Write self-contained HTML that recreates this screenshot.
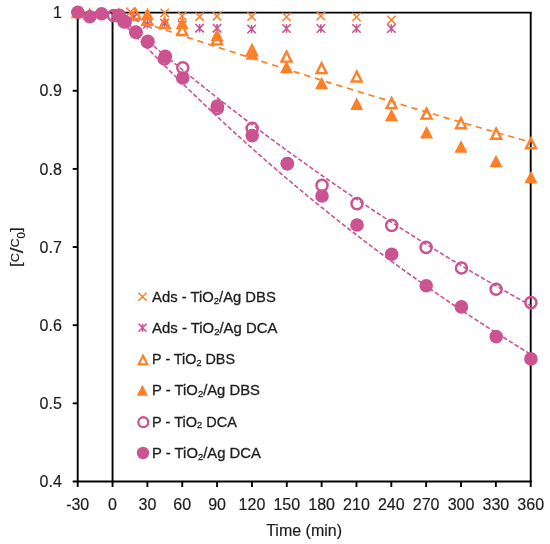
<!DOCTYPE html><html><head><meta charset="utf-8"><style>html,body{margin:0;padding:0;background:#fff;width:550px;height:544px;overflow:hidden;position:relative}</style></head><body><svg width="550" height="544" viewBox="0 0 550 544" style="position:absolute;left:0;top:0">
<rect x="0" y="0" width="550" height="544" fill="#fff"/>
<g stroke="#000000" stroke-width="1.9" fill="none" stroke-linecap="butt"><line x1="76.75" y1="12.60" x2="531.65" y2="12.60"/><line x1="530.70" y1="12.60" x2="530.70" y2="487.00"/><line x1="77.70" y1="12.60" x2="77.70" y2="487.00"/><line x1="112.55" y1="12.60" x2="112.55" y2="487.00"/><line x1="72.70" y1="481.50" x2="531.65" y2="481.50"/><line x1="147.39" y1="481.50" x2="147.39" y2="487.00"/><line x1="182.24" y1="481.50" x2="182.24" y2="487.00"/><line x1="217.08" y1="481.50" x2="217.08" y2="487.00"/><line x1="251.93" y1="481.50" x2="251.93" y2="487.00"/><line x1="286.78" y1="481.50" x2="286.78" y2="487.00"/><line x1="321.62" y1="481.50" x2="321.62" y2="487.00"/><line x1="356.47" y1="481.50" x2="356.47" y2="487.00"/><line x1="391.31" y1="481.50" x2="391.31" y2="487.00"/><line x1="426.16" y1="481.50" x2="426.16" y2="487.00"/><line x1="461.01" y1="481.50" x2="461.01" y2="487.00"/><line x1="495.85" y1="481.50" x2="495.85" y2="487.00"/><line x1="72.70" y1="403.35" x2="77.70" y2="403.35"/><line x1="72.70" y1="325.20" x2="77.70" y2="325.20"/><line x1="72.70" y1="247.05" x2="77.70" y2="247.05"/><line x1="72.70" y1="168.90" x2="77.70" y2="168.90"/><line x1="72.70" y1="90.75" x2="77.70" y2="90.75"/><line x1="72.70" y1="12.60" x2="77.70" y2="12.60"/></g>
<g font-family="'Liberation Sans', Arial, sans-serif" fill="#1e1e1e" stroke="#1e1e1e" stroke-width="0.2"><text x="61.8" y="487.1" text-anchor="end" font-size="16">0.4</text><text x="61.8" y="408.95" text-anchor="end" font-size="16">0.5</text><text x="61.8" y="330.8" text-anchor="end" font-size="16">0.6</text><text x="61.8" y="252.65" text-anchor="end" font-size="16">0.7</text><text x="61.8" y="174.5" text-anchor="end" font-size="16">0.8</text><text x="61.8" y="96.35" text-anchor="end" font-size="16">0.9</text><text x="61.8" y="18.2" text-anchor="end" font-size="16">1</text><text x="77.7" y="509.6" text-anchor="middle" font-size="16">-30</text><text x="112.55" y="509.6" text-anchor="middle" font-size="16">0</text><text x="147.39" y="509.6" text-anchor="middle" font-size="16">30</text><text x="182.24" y="509.6" text-anchor="middle" font-size="16">60</text><text x="217.08" y="509.6" text-anchor="middle" font-size="16">90</text><text x="251.93" y="509.6" text-anchor="middle" font-size="16">120</text><text x="286.78" y="509.6" text-anchor="middle" font-size="16">150</text><text x="321.62" y="509.6" text-anchor="middle" font-size="16">180</text><text x="356.47" y="509.6" text-anchor="middle" font-size="16">210</text><text x="391.31" y="509.6" text-anchor="middle" font-size="16">240</text><text x="426.16" y="509.6" text-anchor="middle" font-size="16">270</text><text x="461.01" y="509.6" text-anchor="middle" font-size="16">300</text><text x="495.85" y="509.6" text-anchor="middle" font-size="16">330</text><text x="530.7" y="509.6" text-anchor="middle" font-size="16">360</text><text x="304.1" y="536.0" text-anchor="middle" font-size="16">Time (min)</text></g>
<g font-family="'Liberation Sans', Arial, sans-serif" fill="#1e1e1e" stroke="#1e1e1e" stroke-width="0.3"><text x="152.1" y="301.9" text-anchor="start" font-size="15" textLength="123.7" lengthAdjust="spacingAndGlyphs">Ads - TiO<tspan font-size="9.6" dy="1.8">2</tspan><tspan dy="-1.8">/Ag DBS</tspan></text><text x="152.1" y="333.07" text-anchor="start" font-size="15" textLength="125.3" lengthAdjust="spacingAndGlyphs">Ads - TiO<tspan font-size="9.6" dy="1.8">2</tspan><tspan dy="-1.8">/Ag DCA</tspan></text><text x="152.1" y="364.24" text-anchor="start" font-size="15" textLength="82.9" lengthAdjust="spacingAndGlyphs">P - TiO<tspan font-size="9.6" dy="1.8">2</tspan><tspan dy="-1.8"> DBS</tspan></text><text x="152.1" y="395.41" text-anchor="start" font-size="15" textLength="107.8" lengthAdjust="spacingAndGlyphs">P - TiO<tspan font-size="9.6" dy="1.8">2</tspan><tspan dy="-1.8">/Ag DBS</tspan></text><text x="152.1" y="426.58" text-anchor="start" font-size="15" textLength="84.8" lengthAdjust="spacingAndGlyphs">P - TiO<tspan font-size="9.6" dy="1.8">2</tspan><tspan dy="-1.8"> DCA</tspan></text><text x="152.1" y="457.75" text-anchor="start" font-size="15" textLength="108.8" lengthAdjust="spacingAndGlyphs">P - TiO<tspan font-size="9.6" dy="1.8">2</tspan><tspan dy="-1.8">/Ag DCA</tspan></text></g>
<text transform="translate(20.8,247.2) rotate(-90)" text-anchor="middle" font-family="'Liberation Sans', Arial, sans-serif" font-size="15.5" fill="#1e1e1e" stroke="#1e1e1e" stroke-width="0.2" textLength="39.7" lengthAdjust="spacingAndGlyphs">[<tspan font-size="11.6" dy="-2.2">C</tspan><tspan font-size="19.2" dy="4.0">/</tspan><tspan font-size="11.6" dy="-4.0">C</tspan><tspan font-size="10.5" dy="6.4">0</tspan><tspan dy="-4.2">]</tspan></text>
<polyline points="112.55,12.29 116.03,13.47 119.52,14.65 123.00,15.83 126.48,17.01 129.97,18.19 133.45,19.36 136.94,20.53 140.42,21.71 143.91,22.88 147.39,24.04 150.88,25.21 154.36,26.37 157.85,27.53 161.33,28.70 164.81,29.85 168.30,31.01 171.78,32.17 175.27,33.32 178.75,34.47 182.24,35.62 185.72,36.77 189.21,37.92 192.69,39.06 196.18,40.20 199.66,41.34 203.15,42.48 206.63,43.62 210.11,44.76 213.60,45.89 217.08,47.03 220.57,48.16 224.05,49.29 227.54,50.41 231.02,51.54 234.51,52.66 237.99,53.79 241.48,54.91 244.96,56.03 248.45,57.14 251.93,58.26 255.41,59.37 258.90,60.48 262.38,61.60 265.87,62.70 269.35,63.81 272.84,64.92 276.32,66.02 279.81,67.12 283.29,68.22 286.78,69.32 290.26,70.42 293.75,71.51 297.23,72.61 300.71,73.70 304.20,74.79 307.68,75.88 311.17,76.97 314.65,78.05 318.14,79.14 321.62,80.22 325.11,81.30 328.59,82.38 332.08,83.46 335.56,84.53 339.04,85.61 342.53,86.68 346.01,87.75 349.50,88.82 352.98,89.89 356.47,90.95 359.95,92.02 363.44,93.08 366.92,94.14 370.41,95.20 373.89,96.26 377.38,97.32 380.86,98.37 384.34,99.42 387.83,100.48 391.31,101.53 394.80,102.57 398.28,103.62 401.77,104.67 405.25,105.71 408.74,106.75 412.22,107.79 415.71,108.83 419.19,109.87 422.68,110.91 426.16,111.94 429.64,112.97 433.13,114.00 436.61,115.03 440.10,116.06 443.58,117.09 447.07,118.11 450.55,119.14 454.04,120.16 457.52,121.18 461.01,122.20 464.49,123.21 467.98,124.23 471.46,125.24 474.94,126.26 478.43,127.27 481.91,128.28 485.40,129.28 488.88,130.29 492.37,131.30 495.85,132.30 499.34,133.30 502.82,134.30 506.31,135.30 509.79,136.30 513.27,137.29 516.76,138.29 520.24,139.28 523.73,140.27 527.21,141.26 530.70,142.25" fill="none" stroke="#FF7F27" stroke-width="1.7" stroke-dasharray="6.3 4.9"/><polyline points="112.55,10.33 116.03,13.41 119.52,16.48 123.00,19.54 126.48,22.58 129.97,25.61 133.45,28.63 136.94,31.64 140.42,34.64 143.91,37.62 147.39,40.59 150.88,43.56 154.36,46.51 157.85,49.44 161.33,52.37 164.81,55.28 168.30,58.19 171.78,61.08 175.27,63.96 178.75,66.83 182.24,69.69 185.72,72.53 189.21,75.37 192.69,78.19 196.18,81.01 199.66,83.81 203.15,86.60 206.63,89.38 210.11,92.15 213.60,94.91 217.08,97.66 220.57,100.39 224.05,103.12 227.54,105.84 231.02,108.54 234.51,111.23 237.99,113.92 241.48,116.59 244.96,119.25 248.45,121.91 251.93,124.55 255.41,127.18 258.90,129.80 262.38,132.41 265.87,135.01 269.35,137.60 272.84,140.18 276.32,142.75 279.81,145.31 283.29,147.86 286.78,150.40 290.26,152.93 293.75,155.45 297.23,157.96 300.71,160.46 304.20,162.95 307.68,165.43 311.17,167.90 314.65,170.36 318.14,172.81 321.62,175.25 325.11,177.68 328.59,180.11 332.08,182.52 335.56,184.92 339.04,187.32 342.53,189.70 346.01,192.08 349.50,194.44 352.98,196.80 356.47,199.14 359.95,201.48 363.44,203.81 366.92,206.13 370.41,208.44 373.89,210.74 377.38,213.04 380.86,215.32 384.34,217.59 387.83,219.86 391.31,222.12 394.80,224.36 398.28,226.60 401.77,228.83 405.25,231.05 408.74,233.27 412.22,235.47 415.71,237.67 419.19,239.85 422.68,242.03 426.16,244.20 429.64,246.36 433.13,248.51 436.61,250.66 440.10,252.79 443.58,254.92 447.07,257.04 450.55,259.15 454.04,261.25 457.52,263.35 461.01,265.43 464.49,267.51 467.98,269.58 471.46,271.64 474.94,273.69 478.43,275.74 481.91,277.78 485.40,279.80 488.88,281.83 492.37,283.84 495.85,285.84 499.34,287.84 502.82,289.83 506.31,291.81 509.79,293.79 513.27,295.75 516.76,297.71 520.24,299.66 523.73,301.60 527.21,303.54 530.70,305.47" fill="none" stroke="#CB5390" stroke-width="1.6" stroke-dasharray="4.5 2.3"/><polyline points="112.55,11.51 116.03,15.25 119.52,18.99 123.00,22.70 126.48,26.39 129.97,30.07 133.45,33.73 136.94,37.37 140.42,41.00 143.91,44.60 147.39,48.19 150.88,51.77 154.36,55.32 157.85,58.86 161.33,62.38 164.81,65.89 168.30,69.38 171.78,72.85 175.27,76.30 178.75,79.74 182.24,83.16 185.72,86.57 189.21,89.96 192.69,93.33 196.18,96.69 199.66,100.03 203.15,103.35 206.63,106.66 210.11,109.95 213.60,113.23 217.08,116.49 220.57,119.74 224.05,122.97 227.54,126.18 231.02,129.38 234.51,132.57 237.99,135.73 241.48,138.89 244.96,142.03 248.45,145.15 251.93,148.26 255.41,151.35 258.90,154.43 262.38,157.49 265.87,160.54 269.35,163.58 272.84,166.60 276.32,169.60 279.81,172.60 283.29,175.57 286.78,178.54 290.26,181.48 293.75,184.42 297.23,187.34 300.71,190.25 304.20,193.14 307.68,196.02 311.17,198.88 314.65,201.73 318.14,204.57 321.62,207.39 325.11,210.20 328.59,213.00 332.08,215.78 335.56,218.55 339.04,221.31 342.53,224.06 346.01,226.79 349.50,229.50 352.98,232.21 356.47,234.90 359.95,237.58 363.44,240.24 366.92,242.90 370.41,245.54 373.89,248.16 377.38,250.78 380.86,253.38 384.34,255.97 387.83,258.55 391.31,261.11 394.80,263.67 398.28,266.21 401.77,268.74 405.25,271.25 408.74,273.76 412.22,276.25 415.71,278.73 419.19,281.20 422.68,283.66 426.16,286.10 429.64,288.53 433.13,290.96 436.61,293.37 440.10,295.76 443.58,298.15 447.07,300.53 450.55,302.89 454.04,305.24 457.52,307.59 461.01,309.92 464.49,312.24 467.98,314.54 471.46,316.84 474.94,319.13 478.43,321.40 481.91,323.67 485.40,325.92 488.88,328.16 492.37,330.39 495.85,332.62 499.34,334.83 502.82,337.03 506.31,339.21 509.79,341.39 513.27,343.56 516.76,345.72 520.24,347.87 523.73,350.01 527.21,352.13 530.70,354.25" fill="none" stroke="#CB5390" stroke-width="1.6" stroke-dasharray="4.5 2.3"/>
<path d="M126.30,7.60L134.70,16.00M126.30,16.00L134.70,7.60" stroke="#FF7F27" stroke-width="1.6" fill="none"/><path d="M160.50,8.70L168.90,17.10M160.50,17.10L168.90,8.70" stroke="#FF7F27" stroke-width="1.6" fill="none"/><path d="M178.00,11.80L186.40,20.20M178.00,20.20L186.40,11.80" stroke="#FF7F27" stroke-width="1.6" fill="none"/><path d="M195.40,12.50L203.80,20.90M195.40,20.90L203.80,12.50" stroke="#FF7F27" stroke-width="1.6" fill="none"/><path d="M212.80,12.00L221.20,20.40M212.80,20.40L221.20,12.00" stroke="#FF7F27" stroke-width="1.6" fill="none"/><path d="M247.40,12.30L255.80,20.70M247.40,20.70L255.80,12.30" stroke="#FF7F27" stroke-width="1.6" fill="none"/><path d="M282.30,12.80L290.70,21.20M282.30,21.20L290.70,12.80" stroke="#FF7F27" stroke-width="1.6" fill="none"/><path d="M316.70,11.80L325.10,20.20M316.70,20.20L325.10,11.80" stroke="#FF7F27" stroke-width="1.6" fill="none"/><path d="M352.30,12.80L360.70,21.20M352.30,21.20L360.70,12.80" stroke="#FF7F27" stroke-width="1.6" fill="none"/><path d="M387.20,15.80L395.60,24.20M387.20,24.20L395.60,15.80" stroke="#FF7F27" stroke-width="1.6" fill="none"/><path d="M129.60,13.20L138.00,21.60M129.60,21.60L138.00,13.20M133.80,13.20L133.80,21.60" stroke="#CB5390" stroke-width="1.6" fill="none"/><path d="M143.20,20.10L151.60,28.50M143.20,28.50L151.60,20.10M147.40,20.10L147.40,28.50" stroke="#CB5390" stroke-width="1.6" fill="none"/><path d="M160.30,19.00L168.70,27.40M160.30,27.40L168.70,19.00M164.50,19.00L164.50,27.40" stroke="#CB5390" stroke-width="1.6" fill="none"/><path d="M178.00,20.70L186.40,29.10M178.00,29.10L186.40,20.70M182.20,20.70L182.20,29.10" stroke="#CB5390" stroke-width="1.6" fill="none"/><path d="M195.40,24.00L203.80,32.40M195.40,32.40L203.80,24.00M199.60,24.00L199.60,32.40" stroke="#CB5390" stroke-width="1.6" fill="none"/><path d="M212.80,24.00L221.20,32.40M212.80,32.40L221.20,24.00M217.00,24.00L217.00,32.40" stroke="#CB5390" stroke-width="1.6" fill="none"/><path d="M247.40,24.80L255.80,33.20M247.40,33.20L255.80,24.80M251.60,24.80L251.60,33.20" stroke="#CB5390" stroke-width="1.6" fill="none"/><path d="M282.30,24.30L290.70,32.70M282.30,32.70L290.70,24.30M286.50,24.30L286.50,32.70" stroke="#CB5390" stroke-width="1.6" fill="none"/><path d="M316.70,24.30L325.10,32.70M316.70,32.70L325.10,24.30M320.90,24.30L320.90,32.70" stroke="#CB5390" stroke-width="1.6" fill="none"/><path d="M352.30,24.30L360.70,32.70M352.30,32.70L360.70,24.30M356.50,24.30L356.50,32.70" stroke="#CB5390" stroke-width="1.6" fill="none"/><path d="M387.20,24.30L395.60,32.70M387.20,32.70L395.60,24.30M391.40,24.30L391.40,32.70" stroke="#CB5390" stroke-width="1.6" fill="none"/><path d="M135.50,6.40L142.40,20.20L128.60,20.20ZM135.50,11.76L132.48,17.80L138.52,17.80Z" fill="#FF7F27" fill-rule="evenodd"/><path d="M147.40,12.29L154.30,26.10L140.50,26.10ZM147.40,17.66L144.38,23.70L150.42,23.70Z" fill="#FF7F27" fill-rule="evenodd"/><path d="M164.70,15.40L171.60,29.20L157.80,29.20ZM164.70,20.76L161.68,26.80L167.72,26.80Z" fill="#FF7F27" fill-rule="evenodd"/><path d="M182.20,22.40L189.10,36.20L175.30,36.20ZM182.20,27.76L179.18,33.80L185.22,33.80Z" fill="#FF7F27" fill-rule="evenodd"/><path d="M217.00,31.80L223.90,45.61L210.10,45.61ZM217.00,37.16L213.98,43.21L220.02,43.21Z" fill="#FF7F27" fill-rule="evenodd"/><path d="M252.00,42.59L258.90,56.41L245.10,56.41ZM252.00,47.96L248.98,54.01L255.02,54.01Z" fill="#FF7F27" fill-rule="evenodd"/><path d="M286.50,48.99L293.40,62.80L279.60,62.80ZM286.50,54.36L283.48,60.41L289.52,60.41Z" fill="#FF7F27" fill-rule="evenodd"/><path d="M321.60,60.50L328.50,74.31L314.70,74.31ZM321.60,65.86L318.58,71.91L324.62,71.91Z" fill="#FF7F27" fill-rule="evenodd"/><path d="M356.70,68.89L363.60,82.70L349.80,82.70ZM356.70,74.26L353.68,80.30L359.72,80.30Z" fill="#FF7F27" fill-rule="evenodd"/><path d="M391.60,95.50L398.50,109.31L384.70,109.31ZM391.60,100.86L388.58,106.91L394.62,106.91Z" fill="#FF7F27" fill-rule="evenodd"/><path d="M426.60,106.00L433.50,119.81L419.70,119.81ZM426.60,111.36L423.58,117.41L429.62,117.41Z" fill="#FF7F27" fill-rule="evenodd"/><path d="M461.00,115.59L467.90,129.41L454.10,129.41ZM461.00,120.96L457.98,127.00L464.02,127.00Z" fill="#FF7F27" fill-rule="evenodd"/><path d="M496.20,126.09L503.10,139.91L489.30,139.91ZM496.20,131.46L493.18,137.50L499.22,137.50Z" fill="#FF7F27" fill-rule="evenodd"/><path d="M531.00,135.69L537.90,149.50L524.10,149.50ZM531.00,141.06L527.98,147.10L534.02,147.10Z" fill="#FF7F27" fill-rule="evenodd"/><path d="M77.20,5.70L83.70,18.30L70.70,18.30Z" fill="#FF7F27"/><path d="M89.60,7.29L96.10,19.91L83.10,19.91Z" fill="#FF7F27"/><path d="M118.60,7.20L125.10,19.80L112.10,19.80Z" fill="#FF7F27"/><path d="M147.40,7.39L153.90,20.00L140.90,20.00Z" fill="#FF7F27"/><path d="M182.20,16.59L188.70,29.20L175.70,29.20Z" fill="#FF7F27"/><path d="M217.00,28.70L223.50,41.30L210.50,41.30Z" fill="#FF7F27"/><path d="M252.00,47.20L258.50,59.80L245.50,59.80Z" fill="#FF7F27"/><path d="M286.50,60.70L293.00,73.31L280.00,73.31Z" fill="#FF7F27"/><path d="M321.60,76.69L328.10,89.31L315.10,89.31Z" fill="#FF7F27"/><path d="M356.70,97.29L363.20,109.91L350.20,109.91Z" fill="#FF7F27"/><path d="M391.50,108.69L398.00,121.31L385.00,121.31Z" fill="#FF7F27"/><path d="M426.60,125.89L433.10,138.50L420.10,138.50Z" fill="#FF7F27"/><path d="M461.00,140.19L467.50,152.81L454.50,152.81Z" fill="#FF7F27"/><path d="M496.00,154.69L502.50,167.31L489.50,167.31Z" fill="#FF7F27"/><path d="M531.00,170.69L537.50,183.31L524.50,183.31Z" fill="#FF7F27"/><circle cx="113.50" cy="15.50" r="5.55" fill="none" stroke="#CB5390" stroke-width="2.5"/><circle cx="118.60" cy="16.00" r="5.55" fill="none" stroke="#CB5390" stroke-width="2.5"/><circle cx="124.20" cy="22.00" r="5.55" fill="none" stroke="#CB5390" stroke-width="2.5"/><circle cx="135.80" cy="32.00" r="5.55" fill="none" stroke="#CB5390" stroke-width="2.5"/><circle cx="147.50" cy="42.00" r="5.55" fill="none" stroke="#CB5390" stroke-width="2.5"/><circle cx="164.40" cy="58.90" r="5.55" fill="none" stroke="#CB5390" stroke-width="2.5"/><circle cx="182.80" cy="67.80" r="5.55" fill="none" stroke="#CB5390" stroke-width="2.5"/><circle cx="217.30" cy="108.50" r="5.55" fill="none" stroke="#CB5390" stroke-width="2.5"/><circle cx="252.20" cy="128.20" r="5.55" fill="none" stroke="#CB5390" stroke-width="2.5"/><circle cx="287.30" cy="163.60" r="5.55" fill="none" stroke="#CB5390" stroke-width="2.5"/><circle cx="322.00" cy="185.40" r="5.55" fill="none" stroke="#CB5390" stroke-width="2.5"/><circle cx="357.00" cy="203.60" r="5.55" fill="none" stroke="#CB5390" stroke-width="2.5"/><circle cx="391.70" cy="225.40" r="5.55" fill="none" stroke="#CB5390" stroke-width="2.5"/><circle cx="426.10" cy="247.40" r="5.55" fill="none" stroke="#CB5390" stroke-width="2.5"/><circle cx="461.50" cy="268.00" r="5.55" fill="none" stroke="#CB5390" stroke-width="2.5"/><circle cx="496.10" cy="289.20" r="5.55" fill="none" stroke="#CB5390" stroke-width="2.5"/><circle cx="530.90" cy="302.60" r="5.55" fill="none" stroke="#CB5390" stroke-width="2.5"/><circle cx="77.80" cy="12.20" r="6.8" fill="#CB5390"/><circle cx="89.80" cy="16.80" r="6.8" fill="#CB5390"/><circle cx="101.60" cy="13.80" r="6.8" fill="#CB5390"/><circle cx="119.20" cy="15.30" r="6.8" fill="#CB5390"/><circle cx="125.20" cy="21.80" r="6.8" fill="#CB5390"/><circle cx="136.10" cy="32.50" r="6.8" fill="#CB5390"/><circle cx="147.90" cy="41.40" r="6.8" fill="#CB5390"/><circle cx="165.30" cy="56.40" r="6.8" fill="#CB5390"/><circle cx="182.70" cy="78.00" r="6.8" fill="#CB5390"/><circle cx="217.30" cy="106.00" r="6.8" fill="#CB5390"/><circle cx="252.20" cy="135.60" r="6.8" fill="#CB5390"/><circle cx="287.30" cy="163.80" r="6.8" fill="#CB5390"/><circle cx="322.00" cy="196.00" r="6.8" fill="#CB5390"/><circle cx="357.00" cy="225.00" r="6.8" fill="#CB5390"/><circle cx="391.70" cy="254.20" r="6.8" fill="#CB5390"/><circle cx="426.20" cy="285.70" r="6.8" fill="#CB5390"/><circle cx="461.40" cy="306.90" r="6.8" fill="#CB5390"/><circle cx="496.20" cy="336.60" r="6.8" fill="#CB5390"/><circle cx="530.90" cy="358.90" r="6.8" fill="#CB5390"/>
<path d="M138.50,292.70L146.50,300.70M138.50,300.70L146.50,292.70" stroke="#FF7F27" stroke-width="1.6" fill="none"/><path d="M138.50,323.80L146.50,331.80M138.50,331.80L146.50,323.80M142.50,323.80L142.50,331.80" stroke="#CB5390" stroke-width="1.6" fill="none"/><path d="M143.00,353.17L149.00,365.23L137.00,365.23ZM143.00,357.88L140.39,363.13L145.61,363.13Z" fill="#FF7F27" fill-rule="evenodd"/><path d="M142.40,384.87L148.00,395.73L136.80,395.73Z" fill="#FF7F27"/><circle cx="143.30" cy="422.20" r="4.95" fill="none" stroke="#CB5390" stroke-width="2.3"/><circle cx="143.00" cy="453.00" r="6.2" fill="#CB5390"/>
</svg></body></html>
